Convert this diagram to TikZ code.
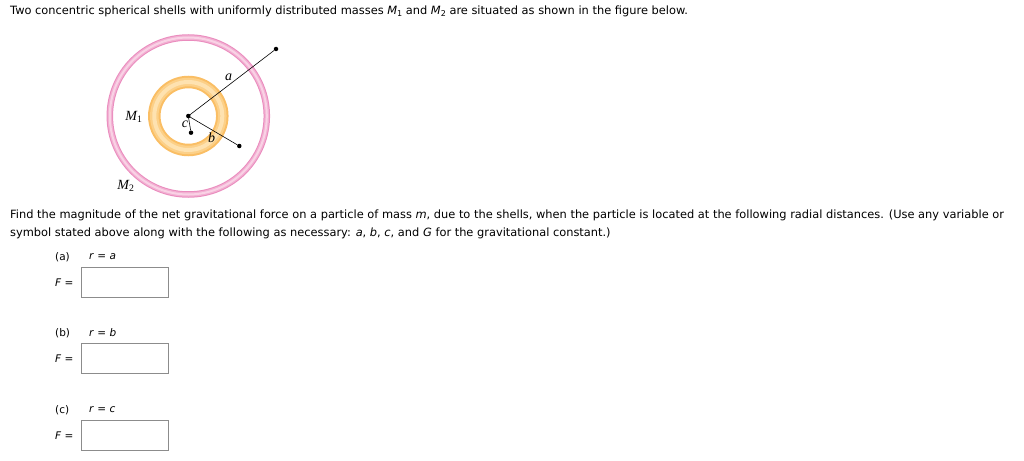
\documentclass[tikz,border=0pt]{standalone}
\usepackage{fontspec}
\setmainfont{DejaVu Sans}
\newfontfamily\figfont{Liberation Serif}
\definecolor{pinkA}{RGB}{234,140,190}
\definecolor{pinkB}{RGB}{242,176,210}
\definecolor{pinkC}{RGB}{249,210,229}
\definecolor{orA}{RGB}{250,190,100}
\definecolor{orB}{RGB}{252,208,136}
\definecolor{orC}{RGB}{254,226,176}
\newcommand{\subidx}[1]{\raisebox{-.4ex}{\fontsize{8}{9}\selectfont #1}}
\tikzset{
  txt/.style={anchor=west, inner sep=0pt, font=\fontsize{11.4}{13}\selectfont},
  anstxt/.style={anchor=west, inner sep=0pt, font=\fontsize{10.5}{12}\selectfont},
  lbl/.style={inner sep=0pt, font=\figfont\itshape\fontsize{14}{15}\selectfont},
  ansbox/.style={draw=black!45, fill=white, minimum width=87pt, minimum height=30pt, anchor=north west, inner sep=0pt},
  pt/.style={circle, fill=black, inner sep=0pt, minimum size=4.5pt}
}
\begin{document}
\begin{tikzpicture}[x=1pt,y=-1pt]
\useasboundingbox (0,0) rectangle (1024,460);
% question text
\node[txt] (q1) at (10,11) {Two concentric spherical shells with uniformly distributed masses \textit{M}\subidx{1} and \textit{M}\subidx{2} are situated as shown in the figure below.};
% shells
\foreach \w/\c in {6.5/pinkA, 4.5/pinkB, 2/pinkC}
  \draw[line width=\w pt, color=\c] (188.3,116) circle (78.5);
\foreach \w/\c in {12.5/orA, 8.5/orB, 4/orC}
  \draw[line width=\w pt, color=\c] (188.3,116) circle (34);
\node[pt] (ctr) at (188.3,116) {};
\node[pt] (pa) at (276,49) {};
\node[pt] (pb) at (239.3,146) {};
\node[pt] (pc) at (191,132.7) {};
\draw[line width=0.6pt] (ctr.center) edge (pa);
\draw[line width=0.6pt] (ctr.center) edge (pb);
\draw[line width=0.6pt] (ctr.center) edge (pc);
\node[lbl] (la) at (228.5,77) {a};
\node[lbl] (lb) at (211.5,138) {b};
\node[lbl] (lc) at (185,124) {c};
\node[lbl] (m1) at (134,116.5) {M\textsubscript{\upshape 1}};
\node[lbl] (m2) at (126,186) {M\textsubscript{\upshape 2}};
% question part
\node[txt] (q2) at (10,215) {Find the magnitude of the net gravitational force on a particle of mass \textit{m}, due to the shells, when the particle is located at the following radial distances. (Use any variable or};
\node[txt] (q3) at (10,233) {symbol stated above along with the following as necessary: \textit{a}, \textit{b}, \textit{c}, and \textit{G} for the gravitational constant.)};
% answers
\foreach \p/\v/\y in {a/a/257, b/b/333, c/c/410} {
  \node[anstxt] (part\p) at (55,\y) {(\p)};
  \node[anstxt] (r\p) at (89,\y) {\textit{r} = \textit{\v}};
  \node[anstxt] (f\p) at (55,\y+26) {\textit{F} =};
  \node[ansbox] (box\p) at (81,\y+10) {};
}
\end{tikzpicture}
\end{document}
